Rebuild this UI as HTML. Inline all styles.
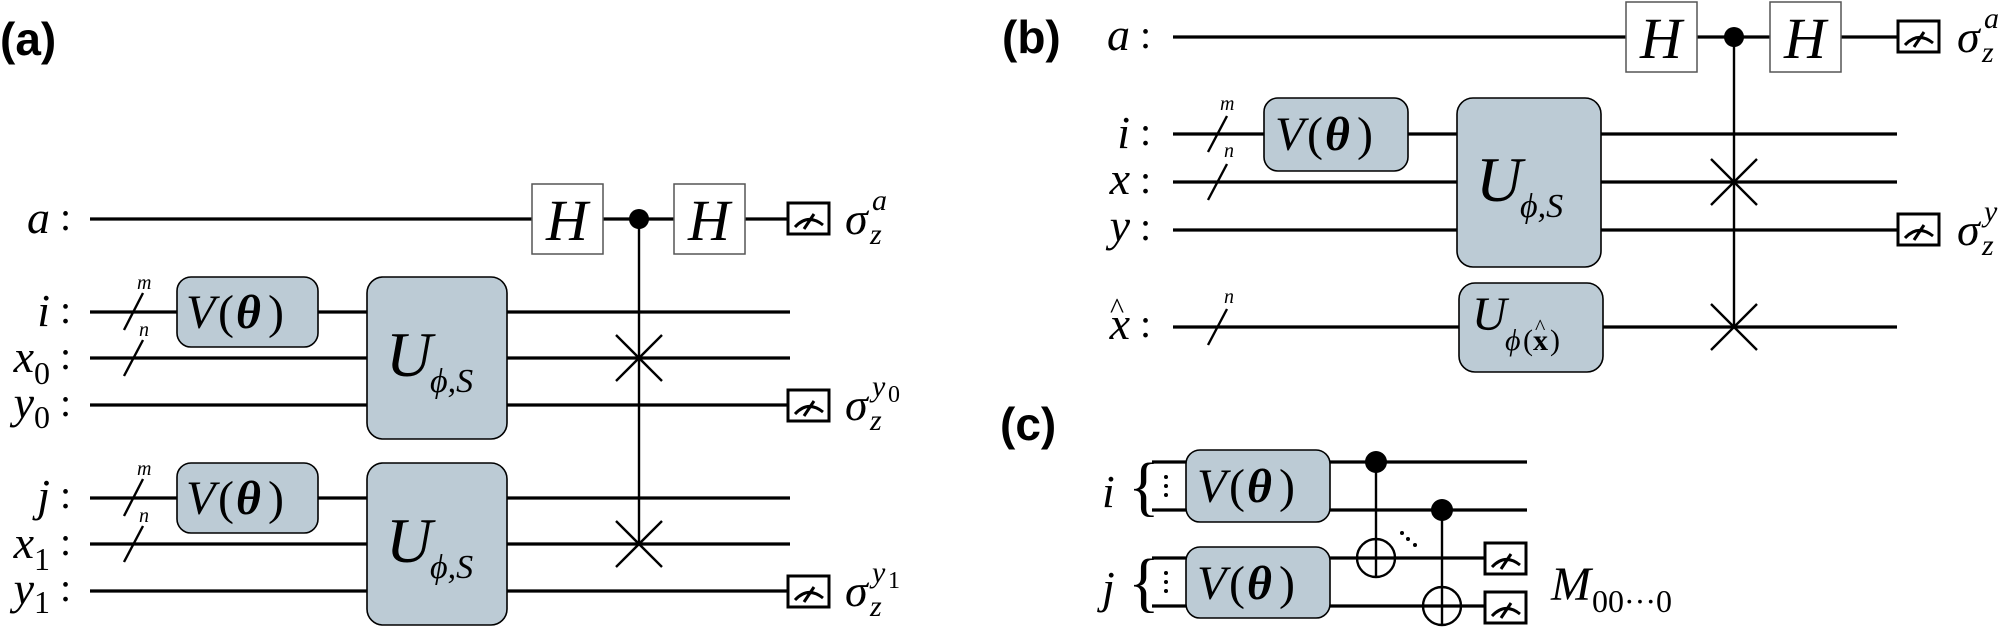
<!DOCTYPE html>
<html><head><meta charset="utf-8"><style>
html,body{margin:0;padding:0;background:#fff;}
svg{display:block;}
.m{font-family:"Liberation Serif",serif;font-style:italic;fill:#000;}
.r{font-family:"Liberation Serif",serif;fill:#000;}
.w{stroke:#000;stroke-width:3.2;fill:none;}
.t{stroke:#000;stroke-width:2.4;fill:none;}
.g{fill:#bccbd5;stroke:#000;stroke-width:1.6;}
.h{fill:#fff;stroke:#555;stroke-width:1.5;}
.lbl{font-family:"Liberation Sans",sans-serif;font-weight:bold;font-size:46px;}
</style></head><body>
<svg width="2006" height="628" viewBox="0 0 2006 628" xmlns="http://www.w3.org/2000/svg">
<defs>
<g id="meas"><rect x="0" y="0" width="41" height="31" fill="#fff" stroke="#000" stroke-width="3"/><path d="M7 24 Q20 10 35 22" stroke="#000" stroke-width="3" fill="none"/><line x1="16" y1="26" x2="26" y2="11" stroke="#000" stroke-width="3"/></g>
<g id="cross"><line x1="-23" y1="-23" x2="23" y2="23" class="t"/><line x1="-23" y1="23" x2="23" y2="-23" class="t"/></g>
</defs>

<!-- ===== Panel (a) ===== -->
<text x="0" y="55" class="lbl">(a)</text>
<g class="m" font-size="46" text-anchor="end">
<text x="50" y="233">a</text>
<text x="50" y="326">i</text>
<text x="34" y="372">x</text>
<text x="34" y="418">y</text>
<text x="50" y="511">j</text>
<text x="34" y="558">x</text>
<text x="34" y="604">y</text>
</g>
<g class="r" font-size="32">
<text x="34" y="384">0</text><text x="34" y="428">0</text>
<text x="34" y="570">1</text><text x="34" y="613">1</text>
</g>
<g class="r" font-size="40">
<text x="60" y="230">:</text><text x="60" y="323">:</text><text x="60" y="369">:</text><text x="60" y="416">:</text>
<text x="60" y="508">:</text><text x="60" y="555">:</text><text x="60" y="601">:</text>
</g>
<line x1="90" y1="219" x2="790" y2="219" class="w"/>
<line x1="90" y1="312" x2="790" y2="312" class="w"/>
<line x1="90" y1="358" x2="790" y2="358" class="w"/>
<line x1="90" y1="405" x2="790" y2="405" class="w"/>
<line x1="90" y1="498" x2="790" y2="498" class="w"/>
<line x1="90" y1="544" x2="790" y2="544" class="w"/>
<line x1="90" y1="591" x2="790" y2="591" class="w"/>
<g class="t"><line x1="124" y1="330" x2="143" y2="293"/><line x1="124" y1="376" x2="143" y2="340"/>
<line x1="124" y1="516" x2="143" y2="479"/><line x1="124" y1="562" x2="143" y2="526"/></g>
<g class="m" font-size="20"><text x="137" y="289">m</text><text x="139" y="336">n</text><text x="137" y="475">m</text><text x="139" y="522">n</text></g>
<rect x="177" y="277" width="141" height="70" rx="14" class="g"/>
<rect x="177" y="463" width="141" height="70" rx="14" class="g"/>
<g font-size="48"><text x="186" y="328" class="m">V</text><text x="218" y="328" class="r">(</text><text x="236" y="328" class="m" font-weight="bold">θ</text><text x="268" y="328" class="r">)</text>
<text x="186" y="514" class="m">V</text><text x="218" y="514" class="r">(</text><text x="236" y="514" class="m" font-weight="bold">θ</text><text x="268" y="514" class="r">)</text></g>
<rect x="367" y="277" width="140" height="162" rx="16" class="g"/>
<rect x="367" y="463" width="140" height="162" rx="16" class="g"/>
<g><text x="386" y="376" class="m" font-size="64">U</text><text x="430" y="392" class="m" font-size="34">ϕ,S</text>
<text x="386" y="562" class="m" font-size="64">U</text><text x="430" y="578" class="m" font-size="34">ϕ,S</text></g>
<line x1="639" y1="219" x2="639" y2="544" class="t"/>
<rect x="532" y="184" width="71" height="70" class="h"/>
<rect x="674" y="184" width="71" height="70" class="h"/>
<text x="546" y="240" class="m" font-size="58">H</text>
<text x="688" y="240" class="m" font-size="58">H</text>
<circle cx="639" cy="219" r="10" fill="#000"/>
<use href="#cross" x="639" y="358"/><use href="#cross" x="639" y="544"/>
<use href="#meas" x="788" y="203"/><use href="#meas" x="788" y="390"/><use href="#meas" x="788" y="576"/>
<g class="m"><text x="845" y="234" font-size="46">σ</text><text x="870" y="244" font-size="30">z</text><text x="872" y="210" font-size="30">a</text>
<text x="845" y="420" font-size="46">σ</text><text x="870" y="430" font-size="30">z</text><text x="872" y="396" font-size="30">y</text><text x="888" y="402" font-size="24" font-style="normal">0</text>
<text x="845" y="606" font-size="46">σ</text><text x="870" y="616" font-size="30">z</text><text x="872" y="582" font-size="30">y</text><text x="888" y="588" font-size="24" font-style="normal">1</text></g>

<!-- ===== Panel (b) ===== -->
<text x="1002" y="53" class="lbl">(b)</text>
<g class="m" font-size="46" text-anchor="end">
<text x="1130" y="50">a</text><text x="1130" y="148">i</text><text x="1130" y="194">x</text><text x="1130" y="241">y</text><text x="1130" y="339">x</text>
</g>
<text x="1110" y="318" class="r" font-size="30">^</text>
<g class="r" font-size="40">
<text x="1140" y="48">:</text><text x="1140" y="145">:</text><text x="1140" y="193">:</text><text x="1140" y="240">:</text><text x="1140" y="337">:</text>
</g>
<line x1="1173" y1="37" x2="1900" y2="37" class="w"/>
<line x1="1173" y1="134" x2="1897" y2="134" class="w"/>
<line x1="1173" y1="182" x2="1897" y2="182" class="w"/>
<line x1="1173" y1="230" x2="1900" y2="230" class="w"/>
<line x1="1173" y1="327" x2="1897" y2="327" class="w"/>
<g class="t"><line x1="1208" y1="152" x2="1227" y2="116"/><line x1="1208" y1="200" x2="1227" y2="164"/><line x1="1208" y1="345" x2="1227" y2="309"/></g>
<g class="m" font-size="20"><text x="1220" y="110">m</text><text x="1224" y="157">n</text><text x="1224" y="303">n</text></g>
<rect x="1264" y="98" width="144" height="73" rx="14" class="g"/>
<g font-size="48"><text x="1275" y="150" class="m">V</text><text x="1307" y="150" class="r">(</text><text x="1325" y="150" class="m" font-weight="bold">θ</text><text x="1357" y="150" class="r">)</text></g>
<rect x="1457" y="98" width="144" height="169" rx="16" class="g"/>
<text x="1476" y="201" class="m" font-size="64">U</text><text x="1520" y="217" class="m" font-size="34">ϕ,S</text>
<rect x="1459" y="283" width="144" height="89" rx="16" class="g"/>
<text x="1472" y="330" class="m" font-size="48">U</text><text x="1505" y="350" class="m" font-size="30">ϕ</text><text x="1523" y="350" class="r" font-size="30">(</text><text x="1533" y="350" class="r" font-size="30" font-weight="bold">x</text><text x="1535" y="334" class="r" font-size="22">^</text><text x="1550" y="350" class="r" font-size="30">)</text>
<line x1="1734" y1="37" x2="1734" y2="327" class="t"/>
<rect x="1626" y="2" width="71" height="70" class="h"/>
<rect x="1770" y="2" width="71" height="70" class="h"/>
<text x="1640" y="58" class="m" font-size="58">H</text>
<text x="1784" y="58" class="m" font-size="58">H</text>
<circle cx="1734" cy="37" r="10" fill="#000"/>
<use href="#cross" x="1734" y="182"/><use href="#cross" x="1734" y="327"/>
<use href="#meas" x="1898" y="21"/><use href="#meas" x="1898" y="214"/>
<g class="m"><text x="1957" y="52" font-size="46">σ</text><text x="1982" y="62" font-size="30">z</text><text x="1984" y="28" font-size="30">a</text>
<text x="1957" y="245" font-size="46">σ</text><text x="1982" y="255" font-size="30">z</text><text x="1984" y="221" font-size="30">y</text></g>

<!-- ===== Panel (c) ===== -->
<text x="1000" y="440" class="lbl">(c)</text>
<line x1="1152" y1="462" x2="1527" y2="462" class="w"/>
<line x1="1152" y1="510" x2="1527" y2="510" class="w"/>
<line x1="1152" y1="558" x2="1486" y2="558" class="w"/>
<line x1="1152" y1="606" x2="1486" y2="606" class="w"/>
<text x="1102" y="507" class="m" font-size="46">i</text>
<text x="1102" y="603" class="m" font-size="46">j</text>
<text x="1128" y="508" class="r" font-size="66">{</text>
<text x="1128" y="604" class="r" font-size="66">{</text>
<g fill="#000"><circle cx="1166" cy="477" r="2"/><circle cx="1166" cy="486" r="2"/><circle cx="1166" cy="495" r="2"/>
<circle cx="1166" cy="573" r="2"/><circle cx="1166" cy="582" r="2"/><circle cx="1166" cy="591" r="2"/></g>
<rect x="1186" y="450" width="144" height="72" rx="14" class="g"/>
<rect x="1186" y="547" width="144" height="71" rx="14" class="g"/>
<g font-size="48"><text x="1197" y="502" class="m">V</text><text x="1229" y="502" class="r">(</text><text x="1247" y="502" class="m" font-weight="bold">θ</text><text x="1279" y="502" class="r">)</text>
<text x="1197" y="599" class="m">V</text><text x="1229" y="599" class="r">(</text><text x="1247" y="599" class="m" font-weight="bold">θ</text><text x="1279" y="599" class="r">)</text></g>
<line x1="1376" y1="462" x2="1376" y2="577" class="t"/>
<line x1="1442" y1="510" x2="1442" y2="625" class="t"/>
<circle cx="1376" cy="462" r="11" fill="#000"/>
<circle cx="1442" cy="510" r="11" fill="#000"/>
<circle cx="1376" cy="558" r="19" class="t"/><line x1="1357" y1="558" x2="1395" y2="558" class="t"/>
<circle cx="1442" cy="606" r="19" class="t"/><line x1="1423" y1="606" x2="1461" y2="606" class="t"/>
<g fill="#000"><circle cx="1402" cy="533" r="2"/><circle cx="1408" cy="539" r="2"/><circle cx="1415" cy="545" r="2"/></g>
<use href="#meas" x="1485" y="543"/><use href="#meas" x="1485" y="592"/>
<text x="1551" y="600" class="m" font-size="48">M</text>
<text x="1592" y="612" class="r" font-size="32">00···0</text>
</svg>
</body></html>
